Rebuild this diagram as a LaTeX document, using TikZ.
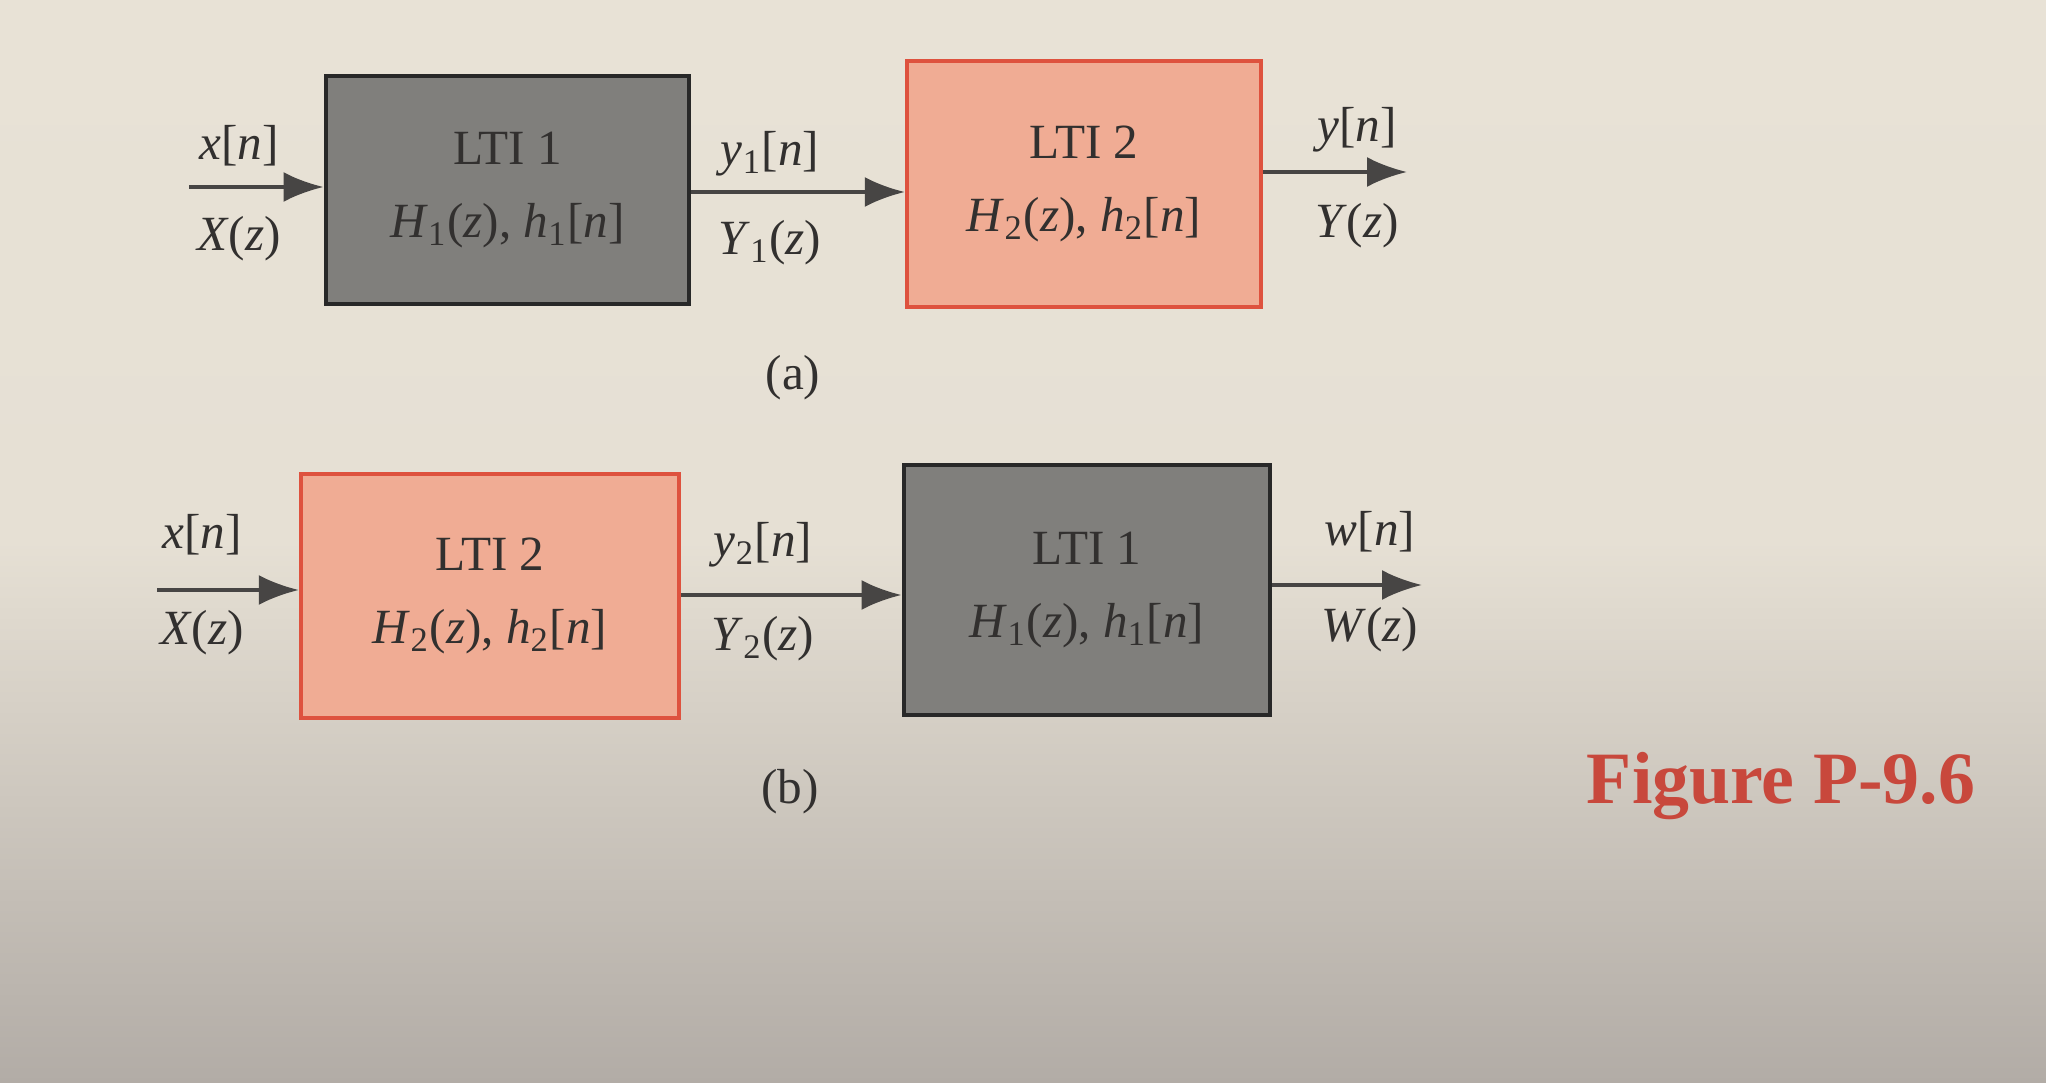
\documentclass[tikz,border=0pt]{standalone}
\usepackage{fontspec}
\setmainfont{Liberation Serif}
\usetikzlibrary{arrows.meta}
\definecolor{paper}{RGB}{232,226,214}
\definecolor{shadow}{RGB}{178,172,166}
\definecolor{ltigray}{RGB}{128,127,124}
\definecolor{ltiedge}{RGB}{40,40,40}
\definecolor{ltipink}{RGB}{240,172,148}
\definecolor{ltired}{RGB}{222,82,62}
\definecolor{ink}{RGB}{50,48,47}
\definecolor{figred}{RGB}{200,72,60}
\newcommand{\iv}[1]{\textit{#1}}
\begin{document}
\begin{tikzpicture}[
    every node/.style={text=ink, font=\fontsize{14}{21}\selectfont},
    graybox/.style={draw=ltiedge, line width=1.4pt, fill=ltigray, align=center, inner sep=0pt},
    pinkbox/.style={draw=ltired, line width=1.2pt, fill=ltipink, align=center, inner sep=0pt},
    sig/.style={draw=ink!90, line width=1.1pt, -{Latex[length=4mm,width=3mm]}},
    lbl/.style={inner sep=0pt}
]
    \useasboundingbox (0,0) rectangle (20.46,-10.83);
    \shade[top color=paper, bottom color=shadow, middle color=paper!96!shadow] (0,0) rectangle (20.46,-10.83);
    % (a)
    \node[graybox, minimum width=3.63cm, minimum height=2.28cm] (a1) at (5.075,-1.90) {LTI 1\\ \iv{H}\textsubscript{1}(\iv{z}), \iv{h}\textsubscript{1}[\iv{n}]};
    \node[pinkbox, minimum width=3.54cm, minimum height=2.46cm] (a2) at (10.84,-1.84) {LTI 2\\ \iv{H}\textsubscript{2}(\iv{z}), \iv{h}\textsubscript{2}[\iv{n}]};
    \coordinate (ain) at (1.89,-1.87);
    \coordinate (aout) at (14.07,-1.72);
    \draw[sig] (ain) -- (ain -| a1.west);
    \draw[sig] (a1.east |- 0,-1.92) -- (a2.west |- 0,-1.92);
    \draw[sig] (a2.east |- aout) -- (aout);
    \node[lbl] (axn) at (2.39,-1.46) {\iv{x}[\iv{n}]};
    \node[lbl] (axz) at (2.39,-2.39) {\iv{X}(\iv{z})};
    \node[lbl] (ay1n) at (7.70,-1.54) {\iv{y}\textsubscript{1}[\iv{n}]};
    \node[lbl] (ay1z) at (7.70,-2.43) {\iv{Y}\textsubscript{1}(\iv{z})};
    \node[lbl] (ayn) at (13.57,-1.30) {\iv{y}[\iv{n}]};
    \node[lbl] (ayz) at (13.57,-2.26) {\iv{Y}(\iv{z})};
    \node[lbl] (acap) at (7.93,-3.78) {(a)};
    % (b)
    \node[pinkbox, minimum width=3.78cm, minimum height=2.44cm] (b1) at (4.90,-5.96) {LTI 2\\ \iv{H}\textsubscript{2}(\iv{z}), \iv{h}\textsubscript{2}[\iv{n}]};
    \node[graybox, minimum width=3.66cm, minimum height=2.50cm] (b2) at (10.87,-5.90) {LTI 1\\ \iv{H}\textsubscript{1}(\iv{z}), \iv{h}\textsubscript{1}[\iv{n}]};
    \coordinate (bin) at (1.57,-5.90);
    \coordinate (bout) at (14.22,-5.85);
    \draw[sig] (bin) -- (bin -| b1.west);
    \draw[sig] (b1.east |- 0,-5.95) -- (b2.west |- 0,-5.95);
    \draw[sig] (b2.east |- bout) -- (bout);
    \node[lbl] (bxn) at (2.02,-5.35) {\iv{x}[\iv{n}]};
    \node[lbl] (bxz) at (2.02,-6.33) {\iv{X}(\iv{z})};
    \node[lbl] (by2n) at (7.63,-5.45) {\iv{y}\textsubscript{2}[\iv{n}]};
    \node[lbl] (by2z) at (7.63,-6.39) {\iv{Y}\textsubscript{2}(\iv{z})};
    \node[lbl] (bwn) at (13.70,-5.32) {\iv{w}[\iv{n}]};
    \node[lbl] (bwz) at (13.70,-6.30) {\iv{W}(\iv{z})};
    \node[lbl] (bcap) at (7.90,-7.92) {(b)};
    \node[lbl, text=figred, font=\fontsize{21}{24}\selectfont\bfseries] (fig) at (17.81,-7.86) {Figure P-9.6};
\end{tikzpicture}
\end{document}
